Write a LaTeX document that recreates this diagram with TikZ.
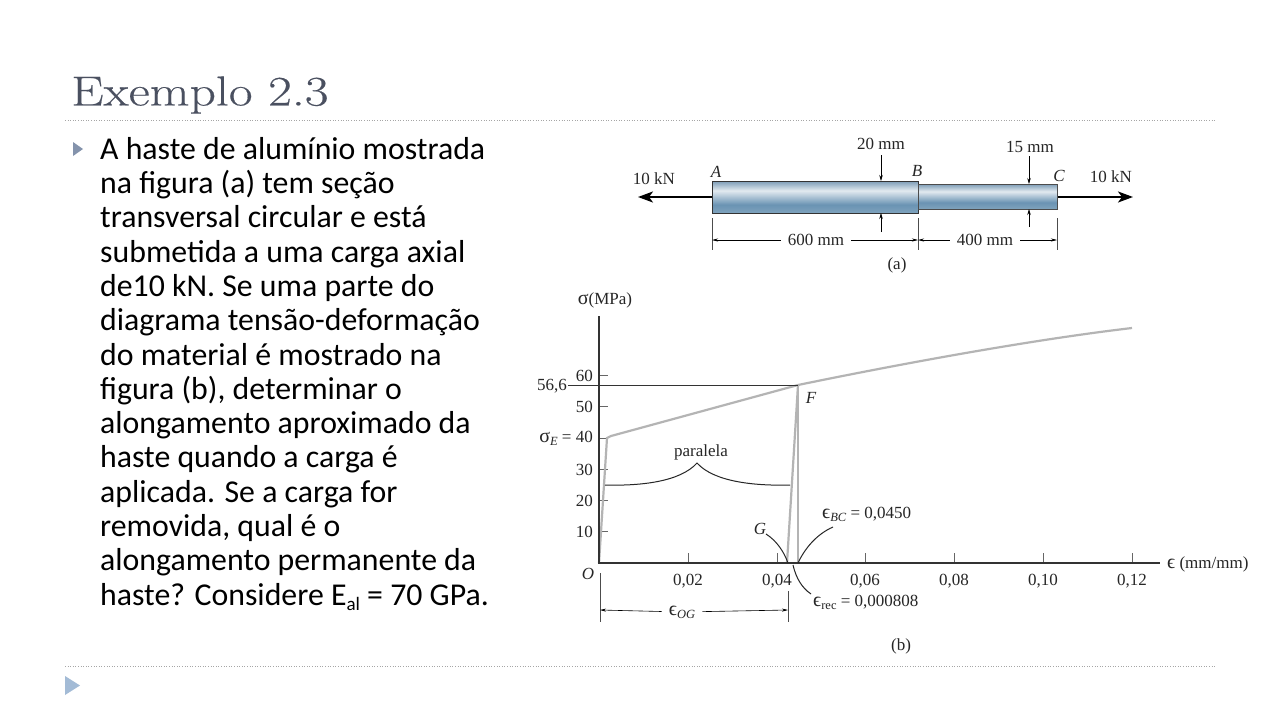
\documentclass[tikz,border=0pt]{standalone}
\usepackage{fontspec}
\setmainfont{Carlito}
\newfontfamily\titlefont[FakeStretch=1.23,FakeBold=0.4]{Latin Modern Roman}
\newfontfamily\figfont{Liberation Serif}
\usepackage{tikz}
\usetikzlibrary{arrows.meta,calc}
\definecolor{slidegray}{HTML}{4A5060}
\definecolor{bulletblue}{HTML}{A3BBD6}
\definecolor{bulletdark}{HTML}{8493AC}
\definecolor{curvegray}{HTML}{B4B4B4}
\definecolor{barlow}{HTML}{7FA3BD}
\definecolor{barmid}{HTML}{6A93B3}
\definecolor{barlight}{HTML}{E2EAF0}
\definecolor{bartop}{HTML}{7C9CB6}
\pgfdeclareverticalshading{hastebar}{100bp}{
	color(0bp)=(barlow);
	color(25bp)=(barlow);
	color(38bp)=(barmid);
	color(60bp)=(barlight);
	color(75bp)=(bartop);
	color(100bp)=(bartop)}
\newcommand{\subtxt}[1]{\raisebox{-3pt}{\fontsize{12.5}{12.5}\selectfont #1}}
\newcommand{\bigsym}[1]{{\fontsize{20}{19}\selectfont #1}}
\tikzset{
	lab/.style={font=\figfont\fontsize{17}{19}\selectfont, inner sep=0pt, yshift=-1pt, text=black!85},
	itlab/.style={lab, font=\figfont\itshape\fontsize{17}{19}\selectfont},
	dimlab/.style={lab, inner xsep=7pt},
	load/.style={line width=2.2pt, -{Stealth[length=15pt, width=11pt, inset=4pt]}},
	dimhead/.style={line width=0.6pt, -{Stealth[length=6pt, width=3pt]}},
	pointer/.style={line width=0.6pt, -{Stealth[length=6pt, width=3.5pt]}},
	ext/.style={line width=0.6pt, black!70},
	axisline/.style={line width=1.4pt, black!80},
	tick/.style={line width=0.6pt, black!60},
	curve/.style={line width=2.2pt, curvegray},
	leader/.style={line width=1pt, black!85},
	rule/.style={line width=0.6pt, black!35, dotted},
}
\begin{document}
\begin{tikzpicture}[x=1pt, y=-1pt]
	\useasboundingbox (0, 0) rectangle (1280, 720);
	\fill[white] (0, 0) rectangle (1280, 720);
	%%%%% SLIDE %%%%%

	\node[anchor=west, inner sep=0pt, text=slidegray, font=\titlefont\fontsize{42}{46}\selectfont] (title) at (71, 95) {Exemplo 2.3};
	\draw[rule] (65, 120.5) -- (1215, 120.5);
	\draw[rule] (65, 666.5) -- (1215, 666.5);
	\fill[bulletdark] (73, 142) -- (83, 149) -- (73, 156) -- cycle;
	\fill[bulletblue] (65, 676) -- (80, 685.5) -- (65, 695) -- cycle;

	\node[anchor=north west, inner sep=0pt, align=left, text=black, font=\fontsize{31.8}{34.3}\selectfont] (body) at (100, 137) {A haste de alumínio mostrada\\
		na figura (a) tem seção\\
		transversal circular e está\\
		submetida a uma carga axial\\
		de10 kN. Se uma parte do\\
		diagrama tensão-deformação\\
		do material é mostrado na\\
		figura (b), determinar o\\
		alongamento aproximado da\\
		haste quando a carga é\\
		aplicada. Se a carga for\\
		removida, qual é o\\
		alongamento permanente da\\
		haste? Considere E\raisebox{-5pt}{\fontsize{19}{19}\selectfont al} = 70 GPa.};

	%%%%% FIGURE A %%%%%

	\coordinate (A) at (712, 197);
	\coordinate (B) at (918, 197);
	\coordinate (C) at (1057, 197);
	\coordinate (loadL) at (638, 197);
	\coordinate (loadR) at (1133, 197);

	\draw[load] (A) -- (loadL);
	\draw[load] (C) -- (loadR);
	\draw[line width=1pt, black!80, shading=hastebar] (712, 181) rectangle (918, 213);
	\draw[line width=1pt, black!70, shading=hastebar] (918, 184) rectangle (1057, 209);

	\node[lab] (loadLeft) at (654, 178) {10 kN};
	\node[lab] (loadRight) at (1111, 176) {10 kN};
	\node[itlab] (labA) at (716, 171) {A};
	\node[itlab] (labB) at (917, 170) {B};
	\node[itlab] (labC) at (1059, 175) {C};
	\node[lab] (dia20) at (881, 143) {20 mm};
	\node[lab] (dia15) at (1030, 146) {15 mm};

	\draw[pointer] (881, 155) -- (881, 181);
	\draw[pointer] (881, 232) -- (881, 213);
	\draw[pointer] (1029, 156) -- (1029, 184);
	\draw[pointer] (1029, 227) -- (1029, 209);

	\draw[ext] (712, 218) -- (712, 250);
	\draw[ext] (918, 218) -- (918, 250);
	\draw[ext] (1057, 218) -- (1057, 250);

	\coordinate (dimA) at (712, 240);
	\coordinate (dimB) at (918, 240);
	\coordinate (dimC) at (1057, 240);
	\node[dimlab, yshift=1pt] (len600) at (816, 240) {600 mm};
	\node[dimlab, yshift=1pt] (len400) at (985, 240) {400 mm};
	\draw[dimhead] (len600) -- (dimA);
	\draw[dimhead] (len600) -- (dimB);
	\draw[dimhead] (len400) -- (dimB);
	\draw[dimhead] (len400) -- (dimC);
	\node[lab] (capA) at (897, 264) {(a)};

	%%%%% FIGURE B %%%%%

	\coordinate (O) at (599, 563);
	\coordinate (yieldpt) at (607, 438);
	\coordinate (F) at (798, 385);
	\coordinate (G) at (787, 563);
	\coordinate (Fbase) at (798, 563);

	\foreach \yy/\lbl in {375/60, 406/50, 469/30, 500/20, 531/10} {
		\draw[tick] (599, \yy) -- (608, \yy);
		\node[lab, anchor=east] at (593, \yy) {\lbl};
	}
	\draw[tick] (599, 438) -- (608, 438);
	\foreach \xx/\lbl in {688/{0,02}, 777/{0,04}, 865/{0,06}, 954/{0,08}, 1043/{0,10}, 1132/{0,12}} {
		\draw[tick] (\xx, 553) -- (\xx, 563);
		\node[lab] at (\xx, 580) {\lbl};
	}

	\draw[curve] (O) -- (yieldpt) -- (611, 436) -- (F) .. controls (900, 364) and (1030, 340) .. (1132, 328);
	\draw[curve] (F) -- (G);
	\draw[curve] (F) -- (Fbase);

	\draw[axisline] (599, 316) -- (O) -- (1160, 563);
	\draw[line width=0.8pt, black!80] (568, 385) -- (F);

	\node[lab] (stress) at (605, 299) {\bigsym{σ}(MPa)};
	\node[lab, anchor=east] (val566) at (567, 385) {56,6};
	\node[lab, anchor=east] (yieldlab) at (593, 437) {\bigsym{σ}\subtxt{\itshape E} = 40};
	\node[itlab] (labO) at (588, 573) {O};
	\node[itlab] (labF) at (811, 397) {F};
	\node[lab, anchor=west] (strain) at (1167, 563) {\bigsym{ϵ} (mm/mm)};
	\node[lab] (par) at (701, 451) {paralela};
	\node[itlab] (labG) at (760, 528) {G};
	\node[lab, anchor=west] (epsBC) at (822, 513) {\bigsym{ϵ}\subtxt{\itshape BC} = 0,0450};
	\node[lab, anchor=west] (epsrec) at (813, 601) {\bigsym{ϵ}\subtxt{rec} = 0,000808};

	\draw[line width=1pt, black!85] (605, 485) .. controls (640, 486) and (680, 482) .. (697, 463) .. controls (714, 482) and (755, 486) .. (790, 485);

	\draw[leader] (766, 534) .. controls (777, 541) and (784, 552) .. (788, 563);
	\draw[leader] (833, 527) .. controls (817, 534) and (805, 548) .. (798, 563);
	\draw[leader] (811, 594) .. controls (802, 588) and (796, 578) .. (793, 565);

	\draw[ext] (600, 573) -- (600, 622);
	\draw[ext] (788, 591) -- (788, 622);
	\coordinate (dimO) at (600, 610);
	\coordinate (dimG) at (788, 610);
	\node[dimlab] (epsOG) at (682, 611) {\bigsym{ϵ}\subtxt{\itshape OG}};
	\draw[dimhead] (epsOG) -- (dimO);
	\draw[dimhead] (epsOG) -- (dimG);
	\node[lab] (capB) at (901, 645) {(b)};

	%%%%% END %%%%%
\end{tikzpicture}
\end{document}
